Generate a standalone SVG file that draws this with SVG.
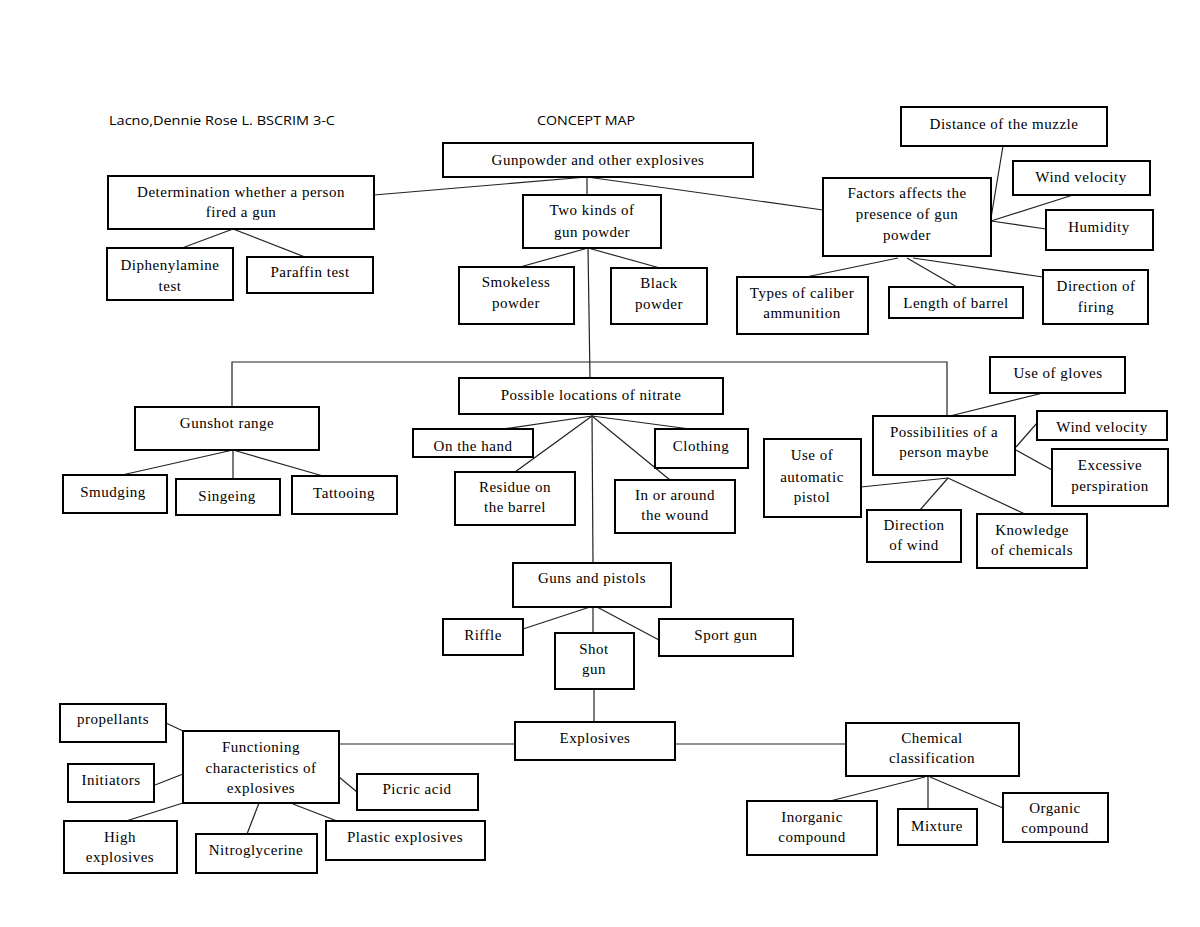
<svg xmlns="http://www.w3.org/2000/svg" width="1200" height="927" viewBox="0 0 1200 927">
<style>
.b{fill:#fff;stroke:#000;stroke-width:2}
.t{font-family:"Liberation Serif","Times New Roman",serif;font-size:15px;fill:#000;text-anchor:middle;letter-spacing:0.5px}
.h{font-family:"Open Sans","Liberation Sans",Arial,sans-serif;font-size:13.5px;fill:#000}
#connectors line,#connectors polyline{stroke:#222;stroke-width:1.2;fill:none}
</style>
<rect width="1200" height="927" fill="#fff"/>
<text class="h" x="109" y="125" textLength="226" lengthAdjust="spacingAndGlyphs">Lacno,Dennie Rose L. BSCRIM 3-C</text>
<text class="h" x="537" y="125" textLength="98" lengthAdjust="spacingAndGlyphs">CONCEPT MAP</text>
<g id="connectors">
<line x1="374" y1="195" x2="587" y2="177"/>
<line x1="587" y1="177" x2="823" y2="210"/>
<line x1="587" y1="177" x2="587" y2="195"/>
<line x1="233" y1="229" x2="182" y2="248"/>
<line x1="233" y1="229" x2="305" y2="257"/>
<line x1="588" y1="248" x2="520" y2="267"/>
<line x1="588" y1="248" x2="660" y2="268"/>
<line x1="588" y1="248" x2="590" y2="378"/>
<polyline points="232,407 232,362 947,362 947,416"/>
<line x1="1003" y1="146" x2="991" y2="218"/>
<line x1="1073" y1="195" x2="991" y2="221"/>
<line x1="991" y1="221" x2="1046" y2="229"/>
<line x1="898" y1="258" x2="806" y2="277"/>
<line x1="907" y1="258" x2="957" y2="287"/>
<line x1="913" y1="258" x2="1043" y2="277"/>
<line x1="233" y1="450" x2="122" y2="475"/>
<line x1="233" y1="450" x2="233" y2="479"/>
<line x1="233" y1="450" x2="323" y2="476"/>
<line x1="592" y1="416" x2="503" y2="429"/>
<line x1="592" y1="416" x2="690" y2="429"/>
<line x1="592" y1="416" x2="515" y2="472"/>
<line x1="592" y1="416" x2="670" y2="480"/>
<line x1="592" y1="414" x2="593" y2="563"/>
<line x1="1043" y1="393" x2="950" y2="416"/>
<line x1="1016" y1="447" x2="1037" y2="423"/>
<line x1="1016" y1="450" x2="1052" y2="470"/>
<line x1="948" y1="478" x2="861" y2="487"/>
<line x1="948" y1="478" x2="920" y2="510"/>
<line x1="948" y1="478" x2="1027" y2="515"/>
<line x1="590" y1="607" x2="523" y2="629"/>
<line x1="593" y1="607" x2="593" y2="633"/>
<line x1="597" y1="607" x2="659" y2="640"/>
<line x1="594" y1="689" x2="594" y2="722"/>
<line x1="339" y1="744" x2="515" y2="744"/>
<line x1="675" y1="744" x2="846" y2="744"/>
<line x1="166" y1="723" x2="183" y2="731"/>
<line x1="155" y1="785" x2="183" y2="774"/>
<line x1="339" y1="777" x2="357" y2="792"/>
<line x1="183" y1="803" x2="126" y2="821"/>
<line x1="259" y1="803" x2="247" y2="834"/>
<line x1="293" y1="804" x2="337" y2="821"/>
<line x1="925" y1="777" x2="830" y2="801"/>
<line x1="928" y1="777" x2="928" y2="809"/>
<line x1="930" y1="777" x2="1003" y2="808"/>
</g>
<g id="n-gunpowder"><rect class="b" x="443" y="143" width="310" height="34"/><text class="t" x="598" y="165">Gunpowder and other explosives</text></g>
<g id="n-determination"><rect class="b" x="108" y="176" width="266" height="53"/><text class="t" x="241" y="197">Determination whether a person</text><text class="t" x="241" y="217">fired a gun</text></g>
<g id="n-diphenylamine"><rect class="b" x="107" y="248" width="126" height="52"/><text class="t" x="170" y="270">Diphenylamine</text><text class="t" x="170" y="291">test</text></g>
<g id="n-paraffin"><rect class="b" x="247" y="257" width="126" height="36"/><text class="t" x="310" y="277">Paraffin test</text></g>
<g id="n-twokinds"><rect class="b" x="523" y="195" width="138" height="53"/><text class="t" x="592" y="215">Two kinds of</text><text class="t" x="592" y="237">gun powder</text></g>
<g id="n-smokeless"><rect class="b" x="459" y="267" width="115" height="57"/><text class="t" x="516" y="287">Smokeless</text><text class="t" x="516" y="308">powder</text></g>
<g id="n-black"><rect class="b" x="611" y="268" width="96" height="56"/><text class="t" x="659" y="288">Black</text><text class="t" x="659" y="309">powder</text></g>
<g id="n-factors"><rect class="b" x="823" y="178" width="168" height="78"/><text class="t" x="907" y="198">Factors affects the</text><text class="t" x="907" y="219">presence of gun</text><text class="t" x="907" y="240">powder</text></g>
<g id="n-distance"><rect class="b" x="901" y="107" width="206" height="39"/><text class="t" x="1004" y="129">Distance of the muzzle</text></g>
<g id="n-wind1"><rect class="b" x="1013" y="161" width="137" height="34"/><text class="t" x="1081" y="182">Wind velocity</text></g>
<g id="n-humidity"><rect class="b" x="1046" y="210" width="107" height="40"/><text class="t" x="1099" y="232">Humidity</text></g>
<g id="n-types"><rect class="b" x="737" y="277" width="131" height="57"/><text class="t" x="802" y="298">Types of caliber</text><text class="t" x="802" y="318">ammunition</text></g>
<g id="n-length"><rect class="b" x="889" y="287" width="134" height="31"/><text class="t" x="956" y="308">Length of barrel</text></g>
<g id="n-direction-firing"><rect class="b" x="1043" y="270" width="105" height="54"/><text class="t" x="1096" y="291">Direction of</text><text class="t" x="1096" y="312">firing</text></g>
<g id="n-gunshot"><rect class="b" x="135" y="407" width="184" height="43"/><text class="t" x="227" y="428">Gunshot range</text></g>
<g id="n-smudging"><rect class="b" x="63" y="475" width="104" height="38"/><text class="t" x="113" y="497">Smudging</text></g>
<g id="n-singeing"><rect class="b" x="176" y="479" width="104" height="36"/><text class="t" x="227" y="501">Singeing</text></g>
<g id="n-tattooing"><rect class="b" x="292" y="476" width="105" height="38"/><text class="t" x="344" y="498">Tattooing</text></g>
<g id="n-locations"><rect class="b" x="459" y="378" width="264" height="36"/><text class="t" x="591" y="400">Possible locations of nitrate</text></g>
<g id="n-hand"><rect class="b" x="413" y="429" width="120" height="28"/><text class="t" x="473" y="451">On the hand</text></g>
<g id="n-clothing"><rect class="b" x="655" y="429" width="93" height="39"/><text class="t" x="701" y="451">Clothing</text></g>
<g id="n-residue"><rect class="b" x="455" y="472" width="120" height="53"/><text class="t" x="515" y="492">Residue on</text><text class="t" x="515" y="512">the barrel</text></g>
<g id="n-wound"><rect class="b" x="615" y="480" width="120" height="53"/><text class="t" x="675" y="500">In or around</text><text class="t" x="675" y="520">the wound</text></g>
<g id="n-possibilities"><rect class="b" x="873" y="416" width="142" height="59"/><text class="t" x="944" y="437">Possibilities of a</text><text class="t" x="944" y="457">person maybe</text></g>
<g id="n-gloves"><rect class="b" x="990" y="357" width="135" height="36"/><text class="t" x="1058" y="378">Use of gloves</text></g>
<g id="n-wind2"><rect class="b" x="1037" y="411" width="130" height="29"/><text class="t" x="1102" y="432">Wind velocity</text></g>
<g id="n-perspiration"><rect class="b" x="1052" y="449" width="116" height="57"/><text class="t" x="1110" y="470">Excessive</text><text class="t" x="1110" y="491">perspiration</text></g>
<g id="n-automatic"><rect class="b" x="764" y="439" width="97" height="78"/><text class="t" x="812" y="460">Use of</text><text class="t" x="812" y="482">automatic</text><text class="t" x="812" y="502">pistol</text></g>
<g id="n-direction-wind"><rect class="b" x="867" y="510" width="94" height="52"/><text class="t" x="914" y="530">Direction</text><text class="t" x="914" y="550">of wind</text></g>
<g id="n-knowledge"><rect class="b" x="977" y="514" width="110" height="54"/><text class="t" x="1032" y="535">Knowledge</text><text class="t" x="1032" y="555">of chemicals</text></g>
<g id="n-guns"><rect class="b" x="513" y="563" width="158" height="44"/><text class="t" x="592" y="583">Guns and pistols</text></g>
<g id="n-riffle"><rect class="b" x="443" y="619" width="80" height="36"/><text class="t" x="483" y="640">Riffle</text></g>
<g id="n-shotgun"><rect class="b" x="555" y="633" width="79" height="56"/><text class="t" x="594" y="654">Shot</text><text class="t" x="594" y="674">gun</text></g>
<g id="n-sportgun"><rect class="b" x="659" y="619" width="134" height="37"/><text class="t" x="726" y="640">Sport gun</text></g>
<g id="n-explosives"><rect class="b" x="515" y="722" width="160" height="38"/><text class="t" x="595" y="743">Explosives</text></g>
<g id="n-functioning"><rect class="b" x="183" y="731" width="156" height="72"/><text class="t" x="261" y="752">Functioning</text><text class="t" x="261" y="773">characteristics of</text><text class="t" x="261" y="793">explosives</text></g>
<g id="n-propellants"><rect class="b" x="60" y="704" width="106" height="38"/><text class="t" x="113" y="724">propellants</text></g>
<g id="n-initiators"><rect class="b" x="68" y="764" width="86" height="38"/><text class="t" x="111" y="785">Initiators</text></g>
<g id="n-picric"><rect class="b" x="357" y="774" width="121" height="36"/><text class="t" x="417" y="794">Picric acid</text></g>
<g id="n-high"><rect class="b" x="64" y="821" width="113" height="52"/><text class="t" x="120" y="842">High</text><text class="t" x="120" y="862">explosives</text></g>
<g id="n-nitroglycerine"><rect class="b" x="196" y="834" width="121" height="39"/><text class="t" x="256" y="855">Nitroglycerine</text></g>
<g id="n-plastic"><rect class="b" x="326" y="821" width="159" height="39"/><text class="t" x="405" y="842">Plastic explosives</text></g>
<g id="n-chemical"><rect class="b" x="846" y="723" width="173" height="53"/><text class="t" x="932" y="743">Chemical</text><text class="t" x="932" y="763">classification</text></g>
<g id="n-inorganic"><rect class="b" x="747" y="801" width="130" height="54"/><text class="t" x="812" y="822">Inorganic</text><text class="t" x="812" y="842">compound</text></g>
<g id="n-mixture"><rect class="b" x="898" y="809" width="79" height="36"/><text class="t" x="937" y="831">Mixture</text></g>
<g id="n-organic"><rect class="b" x="1003" y="793" width="105" height="49"/><text class="t" x="1055" y="813">Organic</text><text class="t" x="1055" y="833">compound</text></g>
</svg>
